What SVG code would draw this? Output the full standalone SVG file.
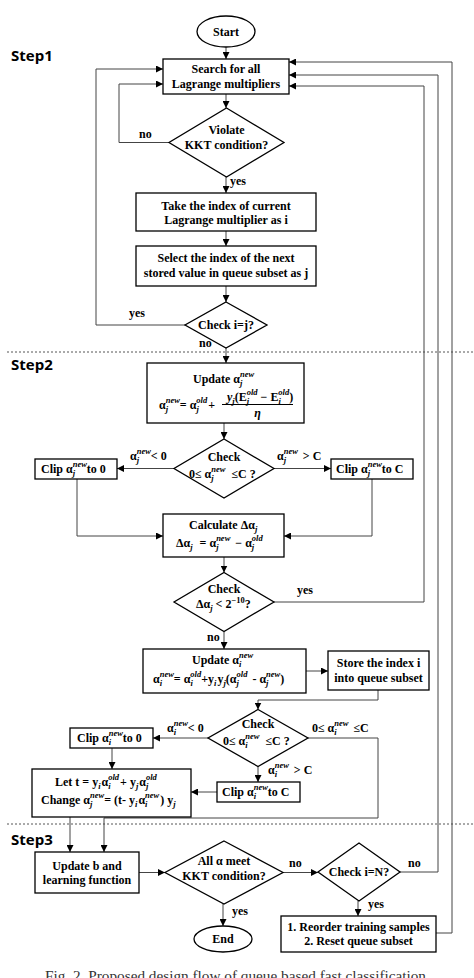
<svg xmlns="http://www.w3.org/2000/svg" width="474" height="978" viewBox="0 0 474 978">
<style>
.bg{fill:#fff}
.box{fill:#fff;stroke:#000;stroke-width:1.3}
.conn{fill:none;stroke:#444;stroke-width:1}
.dash{fill:none;stroke:#555;stroke-width:1;stroke-dasharray:2,2}
.t{font-family:"Liberation Serif","Times New Roman",serif;font-weight:bold;font-size:12px;fill:#000}
.m{text-anchor:middle}
.s{font-size:8.5px;font-style:italic}
.it{font-style:italic}
.step{font-family:"Open Sans","Liberation Sans",sans-serif;font-weight:bold;font-size:15px;fill:#000}
.cap{font-family:"Liberation Serif","Times New Roman",serif;font-size:14px;fill:#333}
</style>
<defs>
<marker id="ah" markerWidth="7" markerHeight="7" refX="7" refY="3.5" orient="auto" markerUnits="userSpaceOnUse">
<path d="M0,0 L7,3.5 L0,7 z" fill="#000"/>
</marker>
</defs>
<rect class="bg" x="0" y="0" width="474" height="978"/>

<g id="dividers">
<line class="dash" x1="7" y1="352" x2="474" y2="352"/>
<line class="dash" x1="7" y1="824" x2="474" y2="824"/>
</g>

<g id="steps">
<text class="step" x="11" y="61">Step1</text>
<text class="step" x="11" y="370">Step2</text>
<text class="step" x="11" y="845">Step3</text>
</g>

<g id="connectors">
<path class="conn" marker-end="url(#ah)" d="M226,47 V59"/>
<path class="conn" marker-end="url(#ah)" d="M226,94 V108"/>
<path class="conn" marker-end="url(#ah)" d="M169,142.5 H119 V84 H163"/>
<path class="conn" marker-end="url(#ah)" d="M226,177 V193"/>
<path class="conn" marker-end="url(#ah)" d="M226,231 V246"/>
<path class="conn" marker-end="url(#ah)" d="M226,286 V302"/>
<path class="conn" marker-end="url(#ah)" d="M185,325 H96 V69 H163"/>
<path class="conn" marker-end="url(#ah)" d="M226,348 V363"/>
<path class="conn" marker-end="url(#ah)" d="M224,423 V439"/>
<path class="conn" marker-end="url(#ah)" d="M174,468.5 H117"/>
<path class="conn" marker-end="url(#ah)" d="M274,468.5 H331"/>
<path class="conn" marker-end="url(#ah)" d="M77,479 V536 H163"/>
<path class="conn" marker-end="url(#ah)" d="M372,479 V536 H284"/>
<path class="conn" marker-end="url(#ah)" d="M224,557 V572.5"/>
<path class="conn" marker-end="url(#ah)" d="M274,602 H424 V86 H289"/>
<path class="conn" marker-end="url(#ah)" d="M224,631.5 V649"/>
<path class="conn" marker-end="url(#ah)" d="M306,671 H328"/>
<path class="conn" marker-end="url(#ah)" d="M378,690 V700 H258 V709.5"/>
<path class="conn" marker-end="url(#ah)" d="M208,738 H153"/>
<path class="conn" marker-end="url(#ah)" d="M308,738 H378 V818 H104 V852"/>
<path class="conn" marker-end="url(#ah)" d="M258,766.5 V782"/>
<path class="conn" marker-end="url(#ah)" d="M112,748 V769"/>
<path class="conn" marker-end="url(#ah)" d="M217,792 H191"/>
<path class="conn" marker-end="url(#ah)" d="M70,817 V852"/>
<path class="conn" marker-end="url(#ah)" d="M139,872.5 H165"/>
<path class="conn" marker-end="url(#ah)" d="M283,872.5 H318"/>
<path class="conn" marker-end="url(#ah)" d="M223,904 V926"/>
<path class="conn" marker-end="url(#ah)" d="M400,872 H438 V75 H289"/>
<path class="conn" marker-end="url(#ah)" d="M358,901 V916"/>
<path class="conn" marker-end="url(#ah)" d="M436,933 H452 V62 H289"/>
</g>

<g id="edge-labels" class="t">
<text x="139" y="138">no</text>
<text x="230" y="185">yes</text>
<text x="129" y="317">yes</text>
<text x="199" y="347">no</text>
<text x="130" y="460">α<tspan class="s" dy="3">j</tspan><tspan class="s" dx="-2.4" dy="-9">new</tspan><tspan dy="6">&lt; 0</tspan></text>
<text x="277" y="460">α<tspan class="s" dy="3">j</tspan><tspan class="s" dx="-2.4" dy="-9">new</tspan><tspan dy="6" dx="2"> &gt; C</tspan></text>
<text x="297" y="594">yes</text>
<text x="207" y="641">no</text>
<text x="167" y="732">α<tspan class="s" dy="3">i</tspan><tspan class="s" dx="-2.4" dy="-9">new</tspan><tspan dy="6">&lt; 0</tspan></text>
<text x="312" y="732">0≤ α<tspan class="s" dy="3">i</tspan><tspan class="s" dx="-2.4" dy="-9">new</tspan><tspan dy="6" dx="2"> ≤C</tspan></text>
<text x="268" y="774">α<tspan class="s" dy="3">i</tspan><tspan class="s" dx="-2.4" dy="-9">new</tspan><tspan dy="6" dx="2"> &gt; C</tspan></text>
<text x="289" y="867">no</text>
<text x="408" y="867">no</text>
<text x="368" y="908">yes</text>
<text x="232" y="915">yes</text>
</g>

<g id="start">
<ellipse class="box" cx="226" cy="31.5" rx="29" ry="15.5"/>
<text class="t m" x="226" y="36">Start</text>
</g>

<g id="search">
<rect class="box" x="163" y="59" width="126" height="35"/>
<text class="t m" x="226" y="73">Search for all</text>
<text class="t m" x="226" y="88">Lagrange multipliers</text>
</g>

<g id="violate">
<polygon class="box" points="226.5,108 284,142.5 226.5,177 169,142.5"/>
<text class="t m" x="226.5" y="134">Violate</text>
<text class="t m" x="226.5" y="149">KKT condition?</text>
</g>

<g id="take">
<rect class="box" x="136" y="193" width="180" height="38"/>
<text class="t m" x="226" y="210">Take the index of current</text>
<text class="t m" x="226" y="224">Lagrange multiplier as i</text>
</g>

<g id="select">
<rect class="box" x="136" y="246" width="180" height="40"/>
<text class="t m" x="226" y="262">Select the index of the next</text>
<text class="t m" x="226" y="277">stored value in queue subset as j</text>
</g>

<g id="check-ij">
<polygon class="box" points="226,302 267,325 226,348 185,325"/>
<text class="t m" x="226" y="329">Check i=j?</text>
</g>

<g id="update-aj">
<rect class="box" x="147" y="363" width="157" height="60"/>
<text class="t" x="193" y="383">Update α<tspan class="s" dy="3">j</tspan><tspan class="s" dx="-2.4" dy="-9">new</tspan></text>
<text class="t" x="159" y="409">α<tspan class="s" dy="3">j</tspan><tspan class="s" dx="-2.4" dy="-9">new</tspan><tspan dy="6">= α</tspan><tspan class="s" dy="3">j</tspan><tspan class="s" dx="-2.4" dy="-9">old</tspan><tspan dy="6" dx="1">+</tspan></text>
<text class="t" x="227" y="401"><tspan class="it">y</tspan><tspan class="s" dy="3">j</tspan><tspan dy="-3">(E</tspan><tspan class="s" dy="3">j</tspan><tspan class="s" dx="-2.4" dy="-9">old</tspan><tspan dy="6"> − E</tspan><tspan class="s" dy="3">i</tspan><tspan class="s" dx="-2.4" dy="-9">old</tspan><tspan dy="6">)</tspan></text>
<line x1="222" y1="404.5" x2="293" y2="404.5" stroke="#000" stroke-width="1"/>
<text class="t m it" x="257.5" y="417" font-size="10">η</text>
</g>

<g id="check-aj">
<polygon class="box" points="224,439 274,468.5 224,498 174,468.5"/>
<text class="t m" x="224" y="461">Check</text>
<text class="t" x="189" y="478">0≤ α<tspan class="s" dy="3">j</tspan><tspan class="s" dx="-2.4" dy="-9">new</tspan><tspan dy="6" dx="3"> ≤C ?</tspan></text>
</g>

<g id="clip-aj-0">
<rect class="box" x="35" y="459" width="82" height="20"/>
<text class="t" x="41" y="473">Clip α<tspan class="s" dy="3">j</tspan><tspan class="s" dx="-2.4" dy="-9">new</tspan><tspan dy="6">to 0</tspan></text>
</g>

<g id="clip-aj-c">
<rect class="box" x="331" y="459" width="82" height="20"/>
<text class="t" x="336" y="473">Clip α<tspan class="s" dy="3">j</tspan><tspan class="s" dx="-2.4" dy="-9">new</tspan><tspan dy="6">to C</tspan></text>
</g>

<g id="calculate">
<rect class="box" x="163" y="514" width="121" height="43"/>
<text class="t" x="189" y="529">Calculate Δα<tspan class="s" dy="3">j</tspan></text>
<text class="t" x="176" y="547">Δα<tspan class="s" dy="3">j</tspan><tspan dy="-3" dx="4"> = α</tspan><tspan class="s" dy="3">j</tspan><tspan class="s" dx="-2.4" dy="-9">new</tspan><tspan dy="6" dx="2"> − α</tspan><tspan class="s" dy="3">j</tspan><tspan class="s" dx="-2.4" dy="-9">old</tspan></text>
</g>

<g id="check-delta">
<polygon class="box" points="224,572.5 274,602 224,631.5 174,602"/>
<text class="t m" x="224" y="593">Check</text>
<text class="t" x="196" y="608">Δα<tspan class="s" dy="3">j</tspan><tspan dy="-3"> &lt; 2</tspan><tspan font-size="8.5px" dy="-5">−10</tspan><tspan dy="5">?</tspan></text>
</g>

<g id="update-ai">
<rect class="box" x="143" y="649" width="163" height="44"/>
<text class="t" x="192" y="664">Update α<tspan class="s" dy="3">i</tspan><tspan class="s" dx="-2.4" dy="-9">new</tspan></text>
<text class="t" x="153" y="683">α<tspan class="s" dy="3">i</tspan><tspan class="s" dx="-2.4" dy="-9">new</tspan><tspan dy="6">= α</tspan><tspan class="s" dy="3">i</tspan><tspan class="s" dx="-2.4" dy="-9">old</tspan><tspan dy="6">+y</tspan><tspan class="s" dy="3">i</tspan><tspan dy="-3" dx="1">y</tspan><tspan class="s" dy="3">j</tspan><tspan dy="-3">(α</tspan><tspan class="s" dy="3">j</tspan><tspan class="s" dx="-2.4" dy="-9">old</tspan><tspan dy="6" dx="2"> - α</tspan><tspan class="s" dy="3">j</tspan><tspan class="s" dx="-2.4" dy="-9">new</tspan><tspan dy="6">)</tspan></text>
</g>

<g id="store">
<rect class="box" x="328" y="651" width="101" height="39"/>
<text class="t m" x="378.5" y="667">Store the index i</text>
<text class="t m" x="378.5" y="682">into queue subset</text>
</g>

<g id="check-ai">
<polygon class="box" points="258,709.5 308,738 258,766.5 208,738"/>
<text class="t m" x="258" y="728">Check</text>
<text class="t" x="223" y="745">0≤ α<tspan class="s" dy="3">i</tspan><tspan class="s" dx="-2.4" dy="-9">new</tspan><tspan dy="6" dx="3"> ≤C ?</tspan></text>
</g>

<g id="clip-ai-0">
<rect class="box" x="70" y="728" width="83" height="20"/>
<text class="t" x="77" y="742">Clip α<tspan class="s" dy="3">i</tspan><tspan class="s" dx="-2.4" dy="-9">new</tspan><tspan dy="6">to 0</tspan></text>
</g>

<g id="clip-ai-c">
<rect class="box" x="217" y="782" width="83" height="20"/>
<text class="t" x="222" y="796">Clip α<tspan class="s" dy="3">i</tspan><tspan class="s" dx="-2.4" dy="-9">new</tspan><tspan dy="6">to C</tspan></text>
</g>

<g id="let">
<rect class="box" x="32" y="769" width="159" height="48"/>
<text class="t" x="55" y="786">Let t = y<tspan class="s" dy="3">i</tspan><tspan dy="-3" dx="1">α</tspan><tspan class="s" dy="3">i</tspan><tspan class="s" dx="-2.4" dy="-9">old</tspan><tspan dy="6" dx="1">+ y</tspan><tspan class="s" dy="3">j</tspan><tspan dy="-3" dx="1">α</tspan><tspan class="s" dy="3">j</tspan><tspan class="s" dx="-2.4" dy="-9">old</tspan></text>
<text class="t" x="41" y="804">Change α<tspan class="s" dy="3">j</tspan><tspan class="s" dx="-2.4" dy="-9">new</tspan><tspan dy="6">= (t- y</tspan><tspan class="s" dy="3">i</tspan><tspan dy="-3" dx="1">α</tspan><tspan class="s" dy="3">i</tspan><tspan class="s" dx="-2.4" dy="-9">new</tspan><tspan dy="6" dx="1">) y</tspan><tspan class="s" dy="3">j</tspan></text>
</g>

<g id="update-b">
<rect class="box" x="35" y="852" width="104" height="41"/>
<text class="t m" x="87" y="870">Update b and</text>
<text class="t m" x="87" y="884">learning function</text>
</g>

<g id="all-kkt">
<polygon class="box" points="224,841 283,872.5 224,904 165,872.5"/>
<text class="t m" x="224" y="865">All α meet</text>
<text class="t m" x="224" y="880">KKT condition?</text>
</g>

<g id="check-in">
<polygon class="box" points="359,843 400,872 359,901 318,872"/>
<text class="t m" x="359" y="876">Check i=N?</text>
</g>

<g id="reorder">
<rect class="box" x="281" y="916" width="155" height="36"/>
<text class="t m" x="358.5" y="931">1. Reorder training samples</text>
<text class="t m" x="358.5" y="945">2. Reset queue subset</text>
</g>

<g id="end">
<ellipse class="box" cx="223" cy="939" rx="29" ry="13"/>
<text class="t m" x="223" y="943">End</text>
</g>

<text class="cap" x="45" y="981" textLength="381" lengthAdjust="spacingAndGlyphs">Fig. 2. Proposed design flow of queue based fast classification</text>
</svg>
